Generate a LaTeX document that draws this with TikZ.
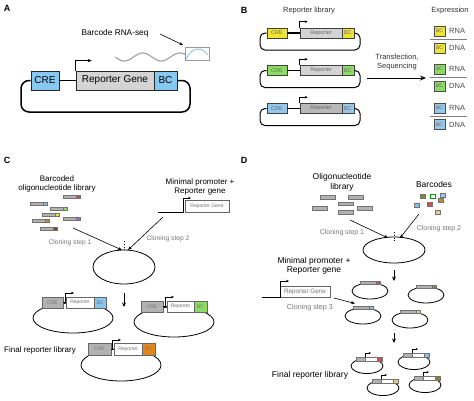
\documentclass[tikz,border=0pt]{standalone}
\usepackage{fontspec}
\setmainfont{Liberation Sans}
\usetikzlibrary{arrows.meta}
\definecolor{cblue}{RGB}{135,200,240}
\definecolor{cyel}{RGB}{240,228,50}
\definecolor{cgreen}{RGB}{140,220,100}
\definecolor{cblueb}{RGB}{150,200,235}
\definecolor{repgrey}{RGB}{212,212,212}
\definecolor{repdark}{RGB}{185,185,185}
\definecolor{cregrey}{RGB}{178,178,178}
\definecolor{corange}{RGB}{225,135,30}
\definecolor{cred}{RGB}{200,80,80}
\definecolor{cpurple}{RGB}{160,110,200}
\definecolor{cbrown}{RGB}{185,140,60}
\definecolor{cdark}{RGB}{95,75,40}
\definecolor{colive}{RGB}{135,135,55}
\definecolor{ctan}{RGB}{225,205,140}
\definecolor{clblue}{RGB}{130,190,235}
\definecolor{txtgrey}{RGB}{120,120,120}
\newcommand\myfs[1]{\fontsize{#1}{#1}\selectfont}
\begin{document}
\begin{tikzpicture}[x=1pt,y=-1pt,
  panel/.style={font=\myfs{9}\bfseries},
  lbl/.style={inner sep=0pt,align=center},
  boxA/.style={draw=black!85,line width=0.8pt,inner sep=0pt,minimum height=19pt,font=\myfs{10}},
  boxB/.style={draw=black!75,line width=0.6pt,inner sep=0pt,minimum height=10pt,font=\myfs{5.5},text=black!60},
  boxC/.style={draw=black!60,line width=0.5pt,inner sep=0pt,minimum height=11pt,font=\myfs{5},text=black!55},
  loopA/.style={line width=1.5pt,rounded corners=8pt},
  loopB/.style={line width=1pt,rounded corners=5pt},
  link/.style={line width=1.2pt},
  prom/.style={line width=0.6pt,-{Stealth[length=3pt,width=2.6pt]}},
  cloning/.style={line width=0.6pt,-{Stealth[length=4pt,width=3pt]}},
  down/.style={line width=1pt,-{Stealth[length=4.5pt,width=4pt]}},
  cstep/.style={font=\myfs{6.7},text=txtgrey,inner sep=0pt},
  plasmid/.style={line width=0.8pt},
  bar/.style={draw=black!55,line width=0.3pt}
]
\useasboundingbox (0,0) rectangle (474,400);
\fill[white] (0,0) rectangle (474,400);

% ================= Panel A =================
\node[panel] (labA) at (7,8) {A};
\node[lbl,font=\myfs{8.3}] (rnaseq) at (115,33) {Barcode RNA-seq};
\coordinate (arrS) at (160,34);
\coordinate (arrE) at (183,45);
\draw[line width=0.6pt,-{Stealth[length=3.5pt,width=3pt]}] (arrS) -- (arrE);
\draw[line width=1.2pt,black!35] plot[domain=0:70,samples=60,smooth] ({115+\x},{57+4*sin(\x*9.73)});
\node[draw=black!40,line width=0.6pt,minimum width=24pt,minimum height=13pt,inner sep=0pt] (readbox) at (197,53.5) {};
\draw[clblue,line width=0.8pt] (186,59) .. controls (192,47) and (201,46) .. (208,55);
\node[boxA,fill=cblue,minimum width=28pt] (Acre) at (45,80.5) {CRE};
\node[boxA,fill=repgrey,minimum width=78pt] (Arep) at (115,80.5) {Reporter Gene};
\node[boxA,fill=cblue,minimum width=23pt] (Abc) at (165.5,80.5) {BC};
\draw[link] (Acre.east) -- (Arep.west);
\draw[line width=0.8pt,-{Stealth[length=4pt,width=3.5pt]}] (Arep.north west) -- ++(0,-10) -- ++(16,0);
\draw[loopA] (Acre.west) -- (21,80.5) -- (21,112) -- (190,112) -- (190,80.5) -- (Abc.east);

% ================= Panel B =================
\node[panel] (labB) at (244,10) {B};
\node[lbl,font=\myfs{7.5},text=black!80] (replib) at (309,11) {Reporter library};
\node[lbl,font=\myfs{7.5},text=black!80] (expr) at (450,11) {Expression};
\foreach \i/\Y/\c/\rg in {1/33/cyel/repgrey,2/70.5/cgreen/repgrey,3/108.5/cblueb/repdark}{
  \node[boxB,fill=\c,minimum width=20pt] (Bcre\i) at (277,\Y) {CRE};
  \node[boxB,fill=\rg,minimum width=42pt] (Brep\i) at (321,\Y) {Reporter};
  \node[boxB,fill=\c,minimum width=12pt] (Bbc\i) at (348,\Y) {BC};
  \draw[link] (Bcre\i.east) -- (Brep\i.west);
  \draw[prom] (Brep\i.north west) -- ++(0,-6) -- ++(8,0);
  \draw[loopB] (Bcre\i.west) -- (260,\Y) -- (260,\Y+17) -- (360,\Y+17) -- (360,\Y) -- (Bbc\i.east);
}
\node[lbl,font=\myfs{7.5},text=black!80] (transf) at (397,62) {Transfection,\\[2pt]Sequencing};
\coordinate (trS) at (367,78);
\coordinate (trE) at (426,78);
\draw[line width=1pt,-{Stealth[length=6pt,width=5pt]}] (trS) -- (trE);
\foreach \j/\y/\c/\t in {1/31/cyel/RNA,2/48/cyel/DNA,3/69/cgreen/RNA,4/86/cgreen/DNA,5/108/cblueb/RNA,6/124.5/cblueb/DNA}{
  \node[draw=black!70,line width=0.5pt,fill=\c,minimum width=11pt,minimum height=10pt,inner sep=0pt,font=\myfs{5},text=black!60] (Ebc\j) at (439.5,\y) {BC};
  \node[anchor=west,inner sep=0pt,font=\myfs{7.5},text=black!70] (Et\j) at (449,\y) {\t};
}
\foreach \s in {39.5,77.5,116}{
  \draw[black!50,line width=0.5pt] (430,\s) -- (467,\s);
}

% ================= Panel C =================
\node[panel] (labC) at (7,160) {C};
\node[lbl,font=\myfs{8}] (bclib) at (57,183.5) {Barcoded\\[1pt]oligonucleotide library};
\node[lbl,font=\myfs{8}] (minprC) at (200,186.5) {Minimal promoter +\\[1pt]Reporter gene};
\foreach \x/\y/\c in {63/195/cred,30/202/clblue,50/207/cgreen,42/213/cyel,63/217/cpurple,32/219.5/cbrown,40/227.5/cdark}{
  \draw[bar,fill=cregrey] (\x,\y) rectangle ++(13,3);
  \draw[bar,fill=\c] (\x+13,\y) rectangle ++(4.5,3);
}
\node[draw=black!60,line width=0.5pt,minimum width=44pt,minimum height=12pt,inner sep=0pt,font=\myfs{5},text=black!55] (Crg) at (207,206) {Reporter Gene};
\coordinate (CpL) at (158,212.5);
\draw[line width=1.4pt] (CpL) -- (183,212.5);
\draw[prom,line width=0.7pt] (183,212.5) -- (183,198) -- (191,198);
\node[cstep] (cs1) at (70,243) {Cloning step 1};
\node[cstep] (cs2) at (168,239) {Cloning step 2};
\draw[plasmid] (124,267) ellipse [x radius=31pt, y radius=17pt];
\coordinate (Cin) at (124,250);
\coordinate (C1s) at (73,228);
\coordinate (C2s) at (163,217);
\draw[cloning] (C1s) -- (122,250);
\draw[cloning] (C2s) -- (128,250);
\draw[dotted,line width=0.8pt] (124,241) -- (124,250);
\draw[down] (124,293) -- (124,307);
% left plasmid
\draw[plasmid] (73,318) ellipse [x radius=40pt, y radius=15pt];
\node[boxC,fill=cregrey,minimum width=21pt] (Ccre1) at (52.5,302.5) {CRE};
\node[boxC,fill=white,minimum width=28pt] (Crep1) at (80,302.5) {Reporter};
\node[boxC,fill=cblue,minimum width=12pt] (Cbc1) at (100,302.5) {BC};
\draw[line width=0.5pt] (Ccre1.east) -- (Crep1.west);
\draw[prom] (65,302.5) -- (65,293) -- (74,293);
% right plasmid
\draw[plasmid] (174,322) ellipse [x radius=40pt, y radius=15pt];
\node[boxC,fill=cregrey,minimum width=22pt] (Ccre2) at (152,306.5) {CRE};
\node[boxC,fill=white,minimum width=27pt] (Crep2) at (180.5,306.5) {Reporter};
\node[boxC,fill=cgreen,minimum width=13pt] (Cbc2) at (200.5,306.5) {BC};
\draw[line width=0.5pt] (Ccre2.east) -- (Crep2.west);
\draw[prom] (165,306.5) -- (165,297) -- (174,297);
% final
\node[lbl,font=\myfs{8}] (finC) at (40,350) {Final reporter library};
\draw[plasmid] (121,365) ellipse [x radius=40pt, y radius=16pt];
\node[boxC,fill=cregrey,minimum width=23pt,minimum height=12pt] (Ccre3) at (99.5,349) {CRE};
\node[boxC,fill=white,minimum width=28pt,minimum height=12pt] (Crep3) at (128,349) {Reporter};
\node[boxC,fill=corange,minimum width=13pt,minimum height=12pt] (Cbc3) at (148.5,349) {BC};
\draw[line width=0.5pt] (Ccre3.east) -- (Crep3.west);
\draw[prom] (112.5,349) -- (112.5,340) -- (121,340);

% ================= Panel D =================
\node[panel] (labD) at (244,160) {D};
\node[lbl,font=\myfs{8.5}] (olib) at (342,182.5) {Oligonucleotide\\[1pt]library};
\node[lbl,font=\myfs{8.5}] (barc) at (434,184) {Barcodes};
\foreach \x/\y in {320/195.5,348/195.5,312/206.5,338/202,338/210.5,357/206.5}{
  \draw[bar,fill=cregrey] (\x,\y) rectangle ++(15,3.5);
}
\foreach \x/\y/\c in {423/196/colive,433/196/white,443/195/cblueb,441/200/cbrown,417/205/clblue,430/204/cred,438/212/ctan}{
  \draw[draw=black!55,line width=0.4pt,fill=\c] (\x-2.5,\y-2.2) rectangle (\x+2.5,\y+2.2);
}
\draw[green!60!black,line width=0.5pt] (430.5,193.8) rectangle (435.5,198.2);
\node[cstep,font=\myfs{6.9}] (ds1) at (342,233) {Cloning step 1};
\node[cstep,font=\myfs{6.9}] (ds2) at (439,229) {Cloning step 2};
\draw[plasmid] (394,250) ellipse [x radius=31pt, y radius=13pt];
\coordinate (D1s) at (350,220);
\coordinate (D2s) at (419,214);
\draw[cloning] (D1s) -- (388,238);
\draw[cloning] (D2s) -- (400,238);
\draw[dotted,line width=0.8pt] (394,232) -- (394,242);
\node[lbl,font=\myfs{8.5}] (minprD) at (314,266) {Minimal promoter +\\[1pt]Reporter gene};
\draw[down] (394,270) -- (394,281);
\node[draw=black!60,line width=0.5pt,minimum width=50pt,minimum height=11pt,inner sep=0pt,font=\myfs{6.3},text=black!55] (Drg) at (305,291.5) {Reporter Gene};
\coordinate (DpL) at (262,297.5);
\draw[line width=1.4pt] (DpL) -- (280,297.5);
\draw[prom,line width=0.7pt] (280,297.5) -- (280,281) -- (289,281);
\coordinate (D3s) at (334,298);
\draw[cloning] (D3s) -- (355,303.5);
\node[cstep,font=\myfs{7.2}] (ds3) at (310,308) {Cloning step 3};
\foreach \cx/\cy/\c in {370/291/cred,426/295/colive,363/316/clblue,410/320/ctan}{
  \draw[plasmid] (\cx,\cy) ellipse [x radius=18pt, y radius=8pt];
  \draw[bar,fill=cregrey] (\cx-10,\cy-10) rectangle (\cx+6,\cy-6.5);
  \draw[bar,fill=\c] (\cx+6,\cy-10) rectangle (\cx+10,\cy-6.5);
}
\draw[down] (394,333) -- (394,343);
\node[lbl,font=\myfs{8.5}] (finD) at (310,375) {Final reporter library};
\foreach \cx/\cy/\c in {367/366/cred,414/362/clblue,383/388/ctan,425/385/colive}{
  \draw[plasmid] (\cx,\cy) ellipse [x radius=16pt, y radius=7.5pt];
  \draw[bar,fill=cregrey] (\cx-11,\cy-9) rectangle (\cx-2,\cy-5);
  \draw[bar,fill=white] (\cx-2,\cy-9) rectangle (\cx+10,\cy-5);
  \draw[bar,fill=\c] (\cx+10,\cy-9) rectangle (\cx+15,\cy-5);
  \draw[line width=0.5pt,-{Stealth[length=2.2pt,width=2pt]}] (\cx-1.5,\cy-9) -- (\cx-1.5,\cy-13) -- (\cx+4,\cy-13);
}
\end{tikzpicture}
\end{document}
